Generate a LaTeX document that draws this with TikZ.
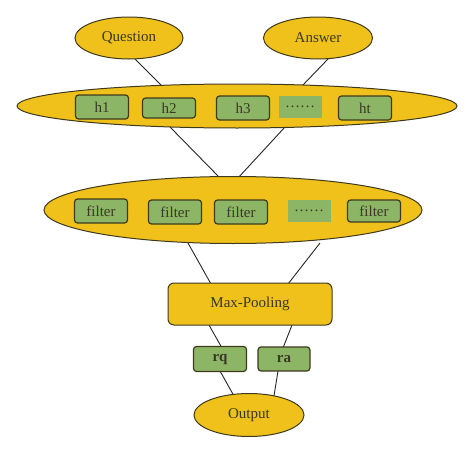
\documentclass[tikz,border=0pt]{standalone}
\usepackage{fontspec}
\setmainfont{Liberation Serif}
\usetikzlibrary{shapes.geometric}
\definecolor{yel}{HTML}{EFC11A}
\definecolor{grn}{HTML}{8CB665}
\definecolor{bord}{HTML}{3F3A1E}
\definecolor{txt}{HTML}{3A3826}
\begin{document}
\begin{tikzpicture}[x=1pt,y=-1pt,
  oval/.style={ellipse,draw=bord,fill=yel,line width=1pt,inner sep=0pt,text=txt,font=\fontsize{15}{17}\selectfont},
  gbox/.style={rectangle,rounded corners=3pt,draw=bord,fill=grn,line width=1.2pt,inner sep=0pt,minimum width=53pt,minimum height=24pt,text=txt,font=\fontsize{15}{17}\selectfont},
  dbox/.style={rectangle,fill=grn,inner sep=0pt,minimum width=43pt,minimum height=22pt,text=txt,font=\fontsize{15}{17}\selectfont},
  link/.style={draw=black!85,line width=0.9pt}]
\useasboundingbox (0,0) rectangle (474,455);
\fill[white] (0,0) rectangle (474,455);
% links drawn first
\coordinate (q1) at (135,59); \coordinate (q2) at (162,86);
\coordinate (a1) at (328,59); \coordinate (a2) at (302,86);
\coordinate (e1) at (170,127); \coordinate (e2) at (220,178);
\coordinate (e3) at (285,127); \coordinate (e4) at (238,178);
\coordinate (f1) at (188,243); \coordinate (f2) at (211,284);
\coordinate (f3) at (320,243); \coordinate (f4) at (288,284);
\coordinate (m1) at (209,325); \coordinate (m2) at (222,348);
\coordinate (m3) at (292,325); \coordinate (m4) at (283,348);
\coordinate (r1) at (220,371); \coordinate (r2) at (234,396);
\coordinate (r3) at (278,371); \coordinate (r4) at (274,396);
\draw[link] (q1)--(q2); \draw[link] (a1)--(a2);
\draw[link] (e1)--(e2); \draw[link] (e3)--(e4);
\draw[link] (f1)--(f2); \draw[link] (f3)--(f4);
\draw[link] (m1)--(m2); \draw[link] (m3)--(m4);
\draw[link] (r1)--(r2); \draw[link] (r3)--(r4);
% top ovals
\node[oval,minimum width=108pt,minimum height=42pt] (question) at (129,38) {Question};
\node[oval,minimum width=109pt,minimum height=42pt] (answer) at (318,38) {Answer};
% hidden layer
\node[oval,minimum width=440pt,minimum height=44pt] (hid) at (237,106) {};
\node[gbox] (h1) at (102,107) {h1};
\node[gbox,minimum height=20pt] (h2) at (169,108) {h2};
\node[gbox] (h3) at (243,108) {h3};
\node[dbox] (hd) at (300,107) {\ldots\ldots};
\node[gbox] (ht) at (365,108) {ht};
% filter layer
\node[oval,minimum width=378pt,minimum height=67pt] (fil) at (233,210) {};
\node[gbox] (fa) at (101,211) {filter};
\node[gbox] (fb) at (175,212) {filter};
\node[gbox] (fc) at (241,212) {filter};
\node[dbox] (fd) at (309,211) {\ldots\ldots};
\node[gbox,minimum height=22pt] (fe) at (374,211) {filter};
% max pooling
\node[rectangle,rounded corners=6pt,draw=bord,fill=yel,line width=1pt,minimum width=164pt,minimum height=42pt,text=txt,font=\fontsize{15}{17}\selectfont] (mp) at (250,304) {Max-Pooling};
\node[gbox,font=\fontsize{15}{17}\selectfont\bfseries,minimum height=25pt] (rq) at (220,359) {rq};
\node[gbox,font=\fontsize{15}{17}\selectfont\bfseries,minimum width=52pt] (ra) at (284,359) {ra};
\node[oval,minimum width=110pt,minimum height=43pt] (out) at (249,415) {Output};
\end{tikzpicture}
\end{document}
